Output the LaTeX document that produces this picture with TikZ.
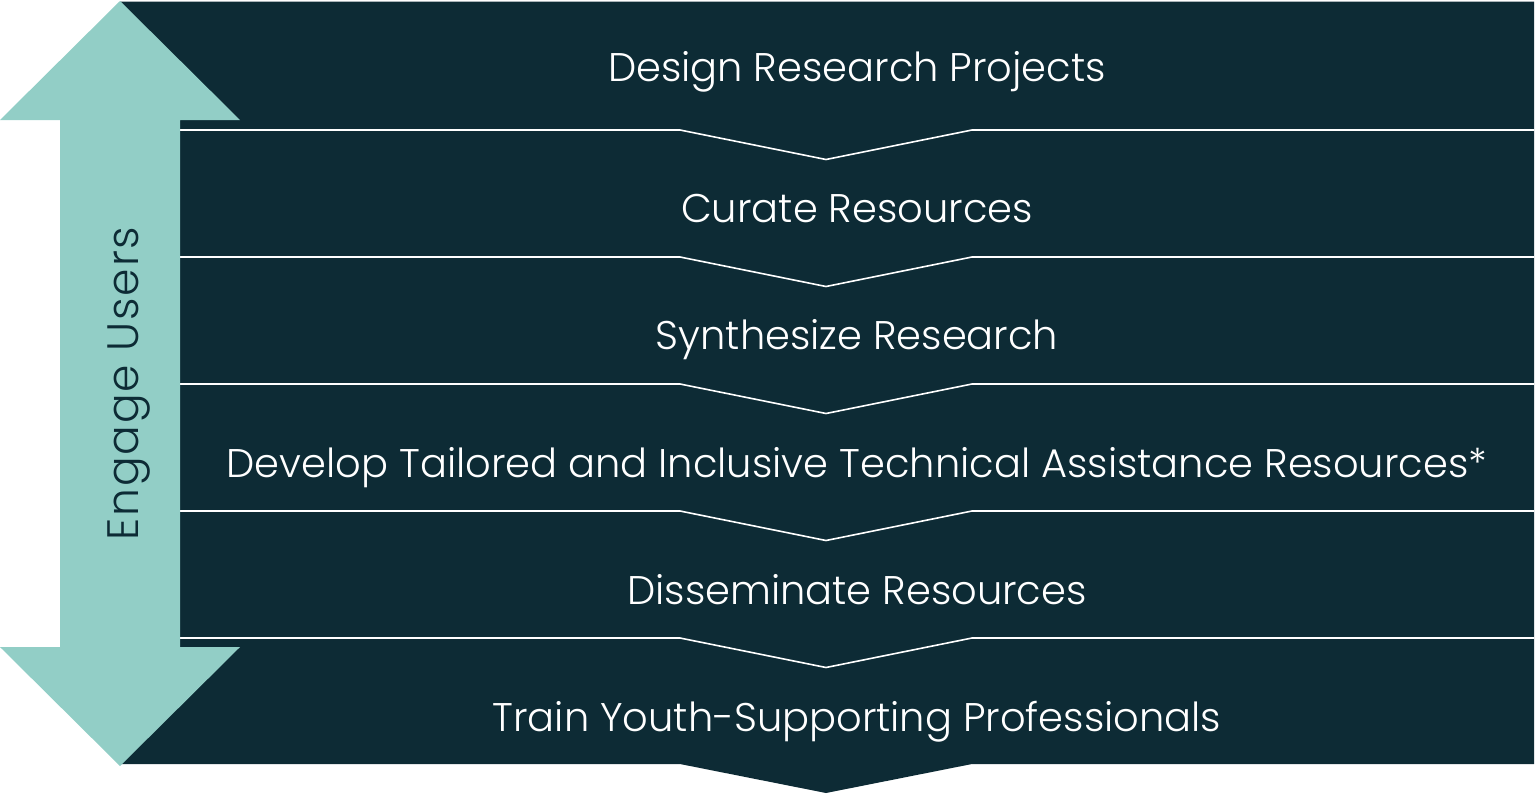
\documentclass[tikz,border=0pt]{standalone}
\usepackage{fontspec}
\IfFontExistsTF{Poppins Light}{\setmainfont{Poppins Light}}{\setmainfont{Poppins}}
\definecolor{darkband}{RGB}{13,43,53}
\definecolor{tealarrow}{RGB}{146,206,198}
\tikzset{
  bandtext/.style={text=white, font=\fontsize{40}{42}\selectfont, inner sep=0pt, anchor=base},
  sepline/.style={draw=white, line width=1.6pt},
}
\begin{document}
\begin{tikzpicture}[x=1pt,y=-1pt]
\useasboundingbox (0,0) rectangle (1536,796);
% dark body
\fill[darkband] (120,1.5) -- (1534,1.5) -- (1534,764) -- (972,764) -- (826,793) -- (680,764) -- (120,764) -- cycle;
% separators
\foreach \yy in {130,257,384,511,638}{
  \draw[sepline] (180,\yy) -- (680,\yy) -- (826,\yy+29.5) -- (972,\yy) -- (1534,\yy);
}
% double arrow
\fill[tealarrow] (120,1) -- (240,120) -- (180,120) -- (180,647) -- (240,647) -- (120,766) -- (0,647) -- (60,647) -- (60,120) -- (0,120) -- cycle;
% labels
\node[bandtext] (l1) at (857,81) {Design Research Projects};
\node[bandtext] (l2) at (857,222) {Curate Resources};
\node[bandtext] (l3) at (857,349.5) {Synthesize Research};
\node[bandtext] (l4) at (857,477) {Develop Tailored and Inclusive Technical Assistance Resources*};
\node[bandtext] (l5) at (857,604) {Disseminate Resources};
\node[bandtext] (l6) at (857,731) {Train Youth-Supporting Professionals};
\node[text=darkband, font=\addfontfeature{LetterSpace=4}\fontsize{44}{46}\selectfont, inner sep=0pt, anchor=base, rotate=90] (eu) at (138,383.5) {Engage Users};
\end{tikzpicture}
\end{document}
